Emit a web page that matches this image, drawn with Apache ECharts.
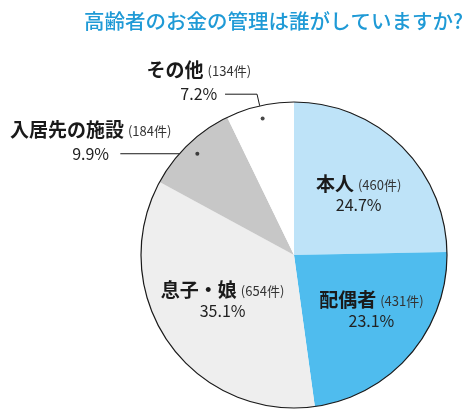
<!DOCTYPE html>
<html>
<head>
<meta charset="utf-8">
<style>
    html, body { margin: 0; padding: 0; background: #fff; }
    #main { width: 474px; height: 410px; }
</style>
<script src="https://cdn.jsdelivr.net/npm/echarts@6/dist/echarts.min.js"></script>
</head>
<body>
<div id="main"></div>
<script>
    // 回答の内訳（件数）
    var categories = ['本人', '配偶者', '息子・娘', '入居先の施設', 'その他'];
    var counts = [460, 431, 654, 184, 134];
    var colors = ['#bee3f8', '#4fbcee', '#eeeeee', '#c7c7c7', '#ffffff'];
    var outsideNames = ['入居先の施設', 'その他'];

    var FONT = '"Noto Sans CJK JP", "Noto Sans", sans-serif';
    var center = [294, 255];
    var radius = 153;
    var dotR = 140;

    var total = counts.reduce(function (a, b) { return a + b; }, 0);

    var rich = {
        n: { fontSize: 19, fontWeight: 'bold', color: '#1a1a1a', fontFamily: FONT, align: 'center', lineHeight: 21 },
        c: { fontSize: 13, color: '#333', fontFamily: FONT, align: 'center', padding: [2, 0, 0, 4], lineHeight: 21 },
        p: { fontSize: 16, color: '#222', fontFamily: FONT, align: 'center', lineHeight: 21 }
    };
    var richOut = {
        n: Object.assign({}, rich.n, { lineHeight: 24 }),
        c: Object.assign({}, rich.c, { lineHeight: 24 }),
        p: Object.assign({}, rich.p, { lineHeight: 24 })
    };

    function fmt(params) {
        return '{n|' + params.name + '}{c|(' + params.value + '件)}\n{p|' + params.percent.toFixed(1) + '%}';
    }

    // 中のラベルの微調整
    var innerShift = { 0: [9, -4], 1: [17, 4], 2: [-6, 0] };

    // 外側ラベルの引き出し線
    var outLines = {
        '入居先の施設': { length: 0, length2: 77, pad: [0, -57, 24, 0] },
        'その他': { length: 25, length2: 32, pad: [0, -32, 24, 0] }
    };

    var mainData = categories.map(function (name, i) {
        return {
            name: name,
            value: counts[i],
            itemStyle: { color: colors[i] },
            label: { show: outsideNames.indexOf(name) < 0 }
        };
    });

    var outData = categories.map(function (name, i) {
        var o = outLines[name];
        if (!o) {
            return { name: name, value: counts[i], label: { show: false }, labelLine: { show: false } };
        }
        return {
            name: name,
            value: counts[i],
            label: { show: true, padding: o.pad },
            labelLine: { show: true, length: o.length, length2: o.length2 }
        };
    });

    // 点の位置: 各扇形の中央角
    var dots = [];
    var acc = 0;
    categories.forEach(function (name, i) {
        if (outsideNames.indexOf(name) >= 0) {
            dots.push([dotR, acc + counts[i] / 2]);
        }
        acc += counts[i];
    });

    var chart = echarts.init(document.getElementById('main'));
    chart.setOption({
        backgroundColor: '#fff',
        animation: false,
        title: {
            text: '高齢者のお金の管理は誰がしていますか?',
            right: 6,
            top: 6,
            textStyle: { color: '#1f9ad6', fontSize: 20.5, fontWeight: 500, fontFamily: FONT }
        },
        polar: { center: center, radius: radius },
        angleAxis: { type: 'value', min: 0, max: total, startAngle: 90, clockwise: true, show: false },
        radiusAxis: { type: 'value', min: 0, max: radius, show: false },
        series: [
            {
                type: 'pie',
                center: center,
                radius: radius,
                startAngle: 90,
                clockwise: true,
                percentPrecision: 1,
                avoidLabelOverlap: false,
                silent: true,
                itemStyle: { borderWidth: 0 },
                label: {
                    position: 'inside',
                    formatter: fmt,
                    rich: rich
                },
                labelLine: { show: false },
                labelLayout: function (params) {
                    var s = innerShift[params.dataIndex];
                    return s ? { dx: s[0], dy: s[1] } : {};
                },
                data: mainData
            },
            {
                type: 'pie',
                center: center,
                radius: radius,
                silent: true,
                label: { show: false },
                labelLine: { show: false },
                itemStyle: { color: 'none', borderColor: '#1a1a1a', borderWidth: 1.2 },
                data: [{ value: 1, name: 'outline' }]
            },
            {
                type: 'pie',
                center: center,
                radius: dotR,
                startAngle: 90,
                clockwise: true,
                percentPrecision: 1,
                avoidLabelOverlap: false,
                silent: true,
                itemStyle: { color: 'none', borderWidth: 0 },
                label: {
                    position: 'outside',
                    formatter: fmt,
                    rich: richOut,
                    distanceToLabelLine: 6
                },
                labelLine: {
                    smooth: false,
                    lineStyle: { color: '#1a1a1a', width: 1 }
                },
                data: outData
            },
            {
                type: 'scatter',
                coordinateSystem: 'polar',
                symbolSize: 4,
                silent: true,
                itemStyle: { color: '#1a1a1a' },
                data: dots
            }
        ]
    });
</script>
</body>
</html>
